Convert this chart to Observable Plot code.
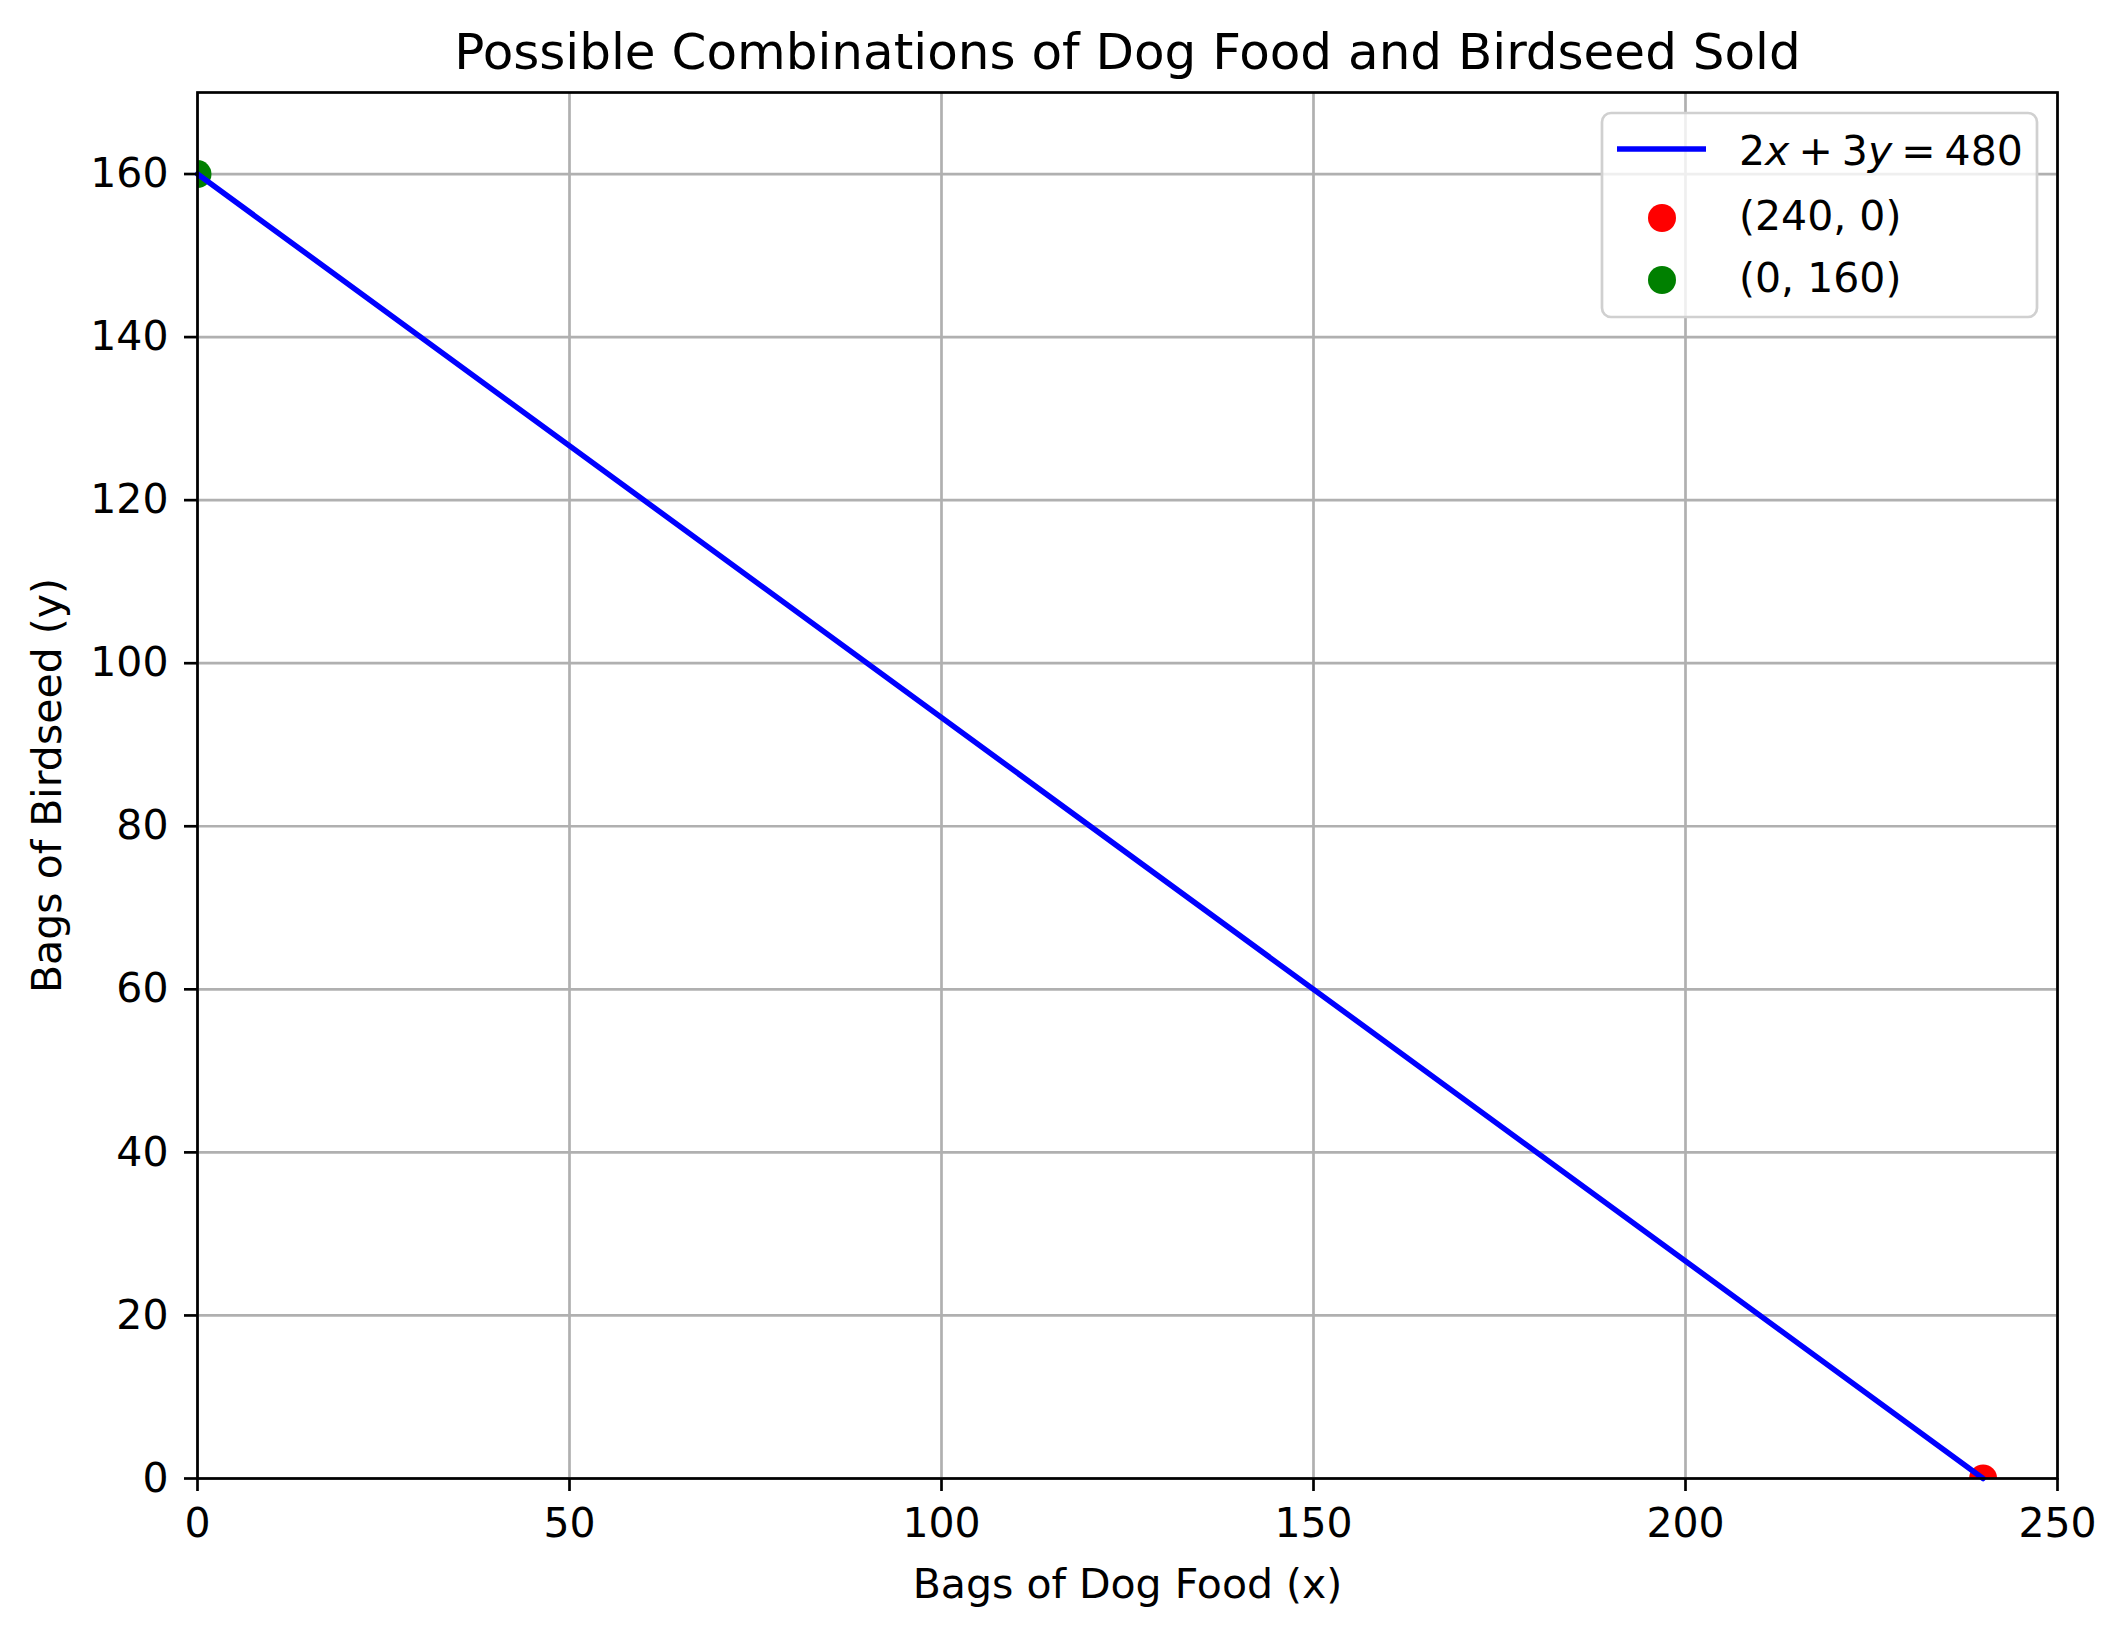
<!DOCTYPE html>
<html><head><meta charset="utf-8">
<script src="https://cdn.jsdelivr.net/npm/d3@7"></script>
<script src="https://cdn.jsdelivr.net/npm/@observablehq/plot@0.6"></script>
<style>
html,body{margin:0;padding:0;background:#fff;overflow:hidden}
#wrap{position:relative;width:2127px;height:1638px;font-family:"DejaVu Sans",sans-serif}
#legend{position:absolute;left:0;top:0}
</style>
</head><body>
<div id="wrap"></div>
<script>
// Data
const title = "Possible Combinations of Dog Food and Birdseed Sold";
const xLabel = "Bags of Dog Food (x)";
const yLabel = "Bags of Birdseed (y)";
const lineX = [0, 240];
const lineY = [160, 0];
const pointNames = ["(240, 0)", "(0, 160)"];
const pointX = [240, 0];
const pointY = [0, 160];
const pointColors = ["#ff0000", "#008000"];
const xTicks = [0, 50, 100, 150, 200, 250];
const yTicks = [0, 20, 40, 60, 80, 100, 120, 140, 160];
const lineColor = "#0000ff";

const lineData = lineX.map((x, i) => ({x, y: lineY[i]}));
const pointData = pointX.map((x, i) => ({x, y: pointY[i], name: pointNames[i], color: pointColors[i]}));

const W = 2127, H = 1638;
const FS = 41;
const chart = Plot.plot({
  width: W, height: H,
  marginLeft: 197, marginRight: 70, marginTop: 92, marginBottom: 160,
  style: {fontFamily: "DejaVu Sans", fontSize: FS + "px", color: "#000", background: "#fff"},
  x: {domain: [0, 250]},
  y: {domain: [0, 170]},
  marks: [
    Plot.gridX(xTicks, {stroke: "#b0b0b0", strokeOpacity: 1, strokeWidth: 2.7}),
    Plot.gridY(yTicks, {stroke: "#b0b0b0", strokeOpacity: 1, strokeWidth: 2.7}),
    Plot.dot(pointData, {x: "x", y: "y", r: 14, fill: "color", stroke: null, clip: "frame"}),
    Plot.line(lineData, {x: "x", y: "y", stroke: lineColor, strokeWidth: 5.5}),
    Plot.frame({stroke: "#000", strokeWidth: 2.7}),
    Plot.axisX(xTicks, {tickSize: 13, tickPadding: 16, strokeWidth: 2.7, fontSize: FS, label: null}),
    Plot.axisY(yTicks, {tickSize: 13, tickPadding: 16, strokeWidth: 2.7, fontSize: FS, label: null}),
    Plot.text([title], {frameAnchor: "top", dy: -40, fontSize: 50, lineAnchor: "middle", textAnchor: "middle", fill: "#000"}),
    Plot.text([xLabel], {frameAnchor: "bottom", dy: 106, fontSize: FS, lineAnchor: "middle", textAnchor: "middle", fill: "#000"}),
    Plot.text([yLabel], {frameAnchor: "left", dx: -150, rotate: -90, fontSize: FS, lineAnchor: "middle", textAnchor: "middle", fill: "#000"})
  ]
});
document.getElementById("wrap").appendChild(chart);

// Legend overlay (matplotlib-style)
const ns = "http://www.w3.org/2000/svg";
const lg = document.createElementNS(ns, "svg");
lg.setAttribute("id", "legend");
lg.setAttribute("width", W); lg.setAttribute("height", H);
lg.style.position = "absolute"; lg.style.left = "0"; lg.style.top = "0";
const L = 1602, T = 113;
lg.innerHTML = `
  <rect x="${L}" y="${T}" width="435" height="204" rx="9" ry="9" fill="rgba(255,255,255,0.8)" stroke="#d0d0d0" stroke-width="2.7"/>
  <line x1="${L+15}" x2="${L+104}" y1="${T+36}" y2="${T+36}" stroke="${lineColor}" stroke-width="5.5"/>
  <text x="${L+137}" y="${T+52}" font-family="DejaVu Sans" font-size="${FS}" fill="#000" word-spacing="-4" xml:space="preserve">2<tspan font-style="italic">x</tspan> + 3<tspan font-style="italic">y</tspan> = 480</text>
  <circle cx="${L+60}" cy="${T+105}" r="14" fill="${pointColors[0]}"/>
  <text x="${L+137}" y="${T+117}" font-family="DejaVu Sans" font-size="${FS}" fill="#000">${pointNames[0]}</text>
  <circle cx="${L+60}" cy="${T+167}" r="14" fill="${pointColors[1]}"/>
  <text x="${L+137}" y="${T+179}" font-family="DejaVu Sans" font-size="${FS}" fill="#000">${pointNames[1]}</text>
`;
document.getElementById("wrap").appendChild(lg);
</script>
</body></html>
